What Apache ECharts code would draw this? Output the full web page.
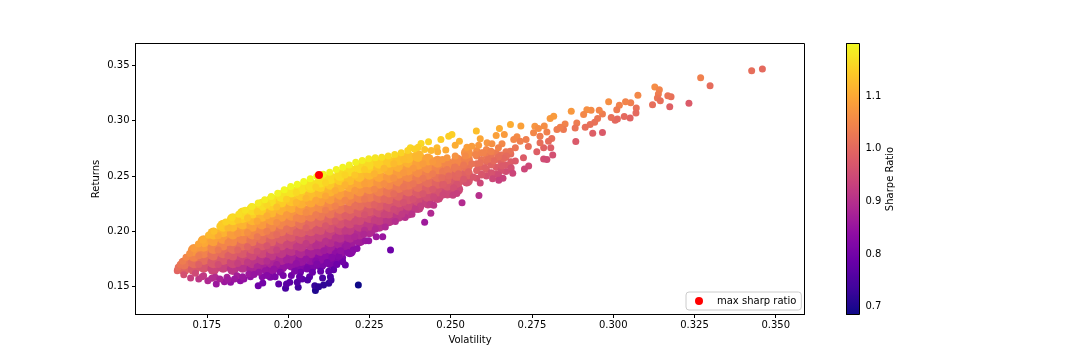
<!DOCTYPE html>
<html>
<head>
<meta charset="utf-8">
<title>Portfolio scatter</title>
<script src="https://cdn.jsdelivr.net/npm/echarts@6/dist/echarts.min.js"></script>
<style>
html, body { margin: 0; padding: 0; background: #fff; }
#chart { width: 1080px; height: 360px; }
</style>
</head>
<body>
<div id="chart"></div>
<script>
// every point is [volatility, returns, sharpe]
const bodyPoints = [
  [.168,.166,.988],[.168,.171,1.018],
  [.171,.166,.971],[.171,.172,1.006],[.171,.178,1.041],[.171,.183,1.070],
  [.174,.168,.966],[.174,.175,1.006],[.174,.181,1.040],[.174,.187,1.075],[.174,.191,1.098],
  [.177,.166,.938],[.177,.172,.972],[.177,.179,1.011],[.177,.185,1.045],[.177,.192,1.085],[.177,.198,1.119],
  [.180,.168,.933],[.180,.175,.972],[.180,.181,1.006],[.180,.188,1.044],[.180,.194,1.078],[.180,.200,1.111],[.180,.205,1.139],
  [.183,.166,.907],[.183,.172,.940],[.183,.179,.978],[.183,.185,1.011],[.183,.192,1.049],[.183,.198,1.082],[.183,.205,1.120],[.183,.211,1.153],
  [.186,.168,.903],[.186,.175,.941],[.186,.181,.973],[.186,.188,1.011],[.186,.194,1.043],[.186,.201,1.081],[.186,.207,1.113],[.186,.213,1.145],[.186,.216,1.161],
  [.189,.166,.878],[.189,.172,.910],[.189,.179,.947],[.189,.185,.979],[.189,.192,1.016],[.189,.198,1.048],[.189,.205,1.085],[.189,.211,1.116],[.189,.217,1.148],[.189,.220,1.164],
  [.192,.168,.875],[.192,.175,.911],[.192,.181,.943],[.192,.188,.979],[.192,.194,1.010],[.192,.201,1.047],[.192,.207,1.078],[.192,.214,1.115],[.192,.220,1.146],[.192,.224,1.167],
  [.195,.166,.851],[.195,.172,.882],[.195,.179,.918],[.195,.185,.949],[.195,.192,.985],[.195,.198,1.015],[.195,.205,1.051],[.195,.211,1.082],[.195,.218,1.118],[.195,.224,1.149],[.195,.228,1.169],
  [.198,.168,.848],[.198,.175,.884],[.198,.181,.914],[.198,.188,.949],[.198,.194,.980],[.198,.201,1.015],[.198,.207,1.045],[.198,.214,1.081],[.198,.220,1.111],[.198,.227,1.146],[.198,.232,1.172],
  [.201,.170,.846],[.201,.176,.876],[.201,.183,.910],[.201,.189,.940],[.201,.196,.975],[.201,.202,1.005],[.201,.209,1.040],[.201,.215,1.070],[.201,.222,1.104],[.201,.228,1.134],[.201,.236,1.174],
  [.204,.168,.824],[.204,.174,.853],[.204,.181,.887],[.204,.187,.917],[.204,.194,.951],[.204,.200,.980],[.204,.207,1.015],[.204,.213,1.044],[.204,.220,1.078],[.204,.226,1.108],[.204,.233,1.142],[.204,.239,1.172],
  [.207,.168,.812],[.207,.175,.845],[.207,.181,.874],[.207,.188,.908],[.207,.194,.937],[.207,.201,.971],[.207,.207,1.000],[.207,.214,1.034],[.207,.220,1.063],[.207,.227,1.097],[.207,.233,1.126],[.207,.240,1.159],[.207,.242,1.169],
  [.210,.170,.810],[.210,.176,.838],[.210,.183,.871],[.210,.189,.900],[.210,.196,.933],[.210,.202,.962],[.210,.209,.995],[.210,.215,1.024],[.210,.222,1.057],[.210,.228,1.086],[.210,.235,1.119],[.210,.241,1.148],[.210,.245,1.167],
  [.213,.172,.808],[.213,.178,.836],[.213,.185,.869],[.213,.191,.897],[.213,.198,.930],[.213,.204,.958],[.213,.211,.991],[.213,.217,1.019],[.213,.224,1.052],[.213,.230,1.080],[.213,.237,1.113],[.213,.243,1.141],[.213,.248,1.164],
  [.216,.176,.815],[.216,.182,.843],[.216,.189,.875],[.216,.195,.903],[.216,.202,.935],[.216,.208,.963],[.216,.215,.995],[.216,.221,1.023],[.216,.228,1.056],[.216,.234,1.083],[.216,.241,1.116],[.216,.247,1.144],[.216,.251,1.162],
  [.219,.182,.831],[.219,.189,.863],[.219,.195,.890],[.219,.202,.922],[.219,.208,.950],[.219,.215,.982],[.219,.221,1.009],[.219,.228,1.041],[.219,.234,1.068],[.219,.241,1.100],[.219,.247,1.128],[.219,.255,1.164],
  [.222,.192,.865],[.222,.198,.892],[.222,.205,.923],[.222,.211,.950],[.222,.218,.982],[.222,.224,1.009],[.222,.231,1.041],[.222,.237,1.068],[.222,.244,1.099],[.222,.250,1.126],[.222,.258,1.162],
  [.225,.200,.889],[.225,.206,.916],[.225,.213,.947],[.225,.219,.973],[.225,.226,1.004],[.225,.232,1.031],[.225,.239,1.062],[.225,.245,1.089],[.225,.252,1.120],[.225,.258,1.147],[.225,.261,1.160],
  [.228,.205,.899],[.228,.211,.925],[.228,.218,.956],[.228,.224,.982],[.228,.231,1.013],[.228,.237,1.039],[.228,.244,1.070],[.228,.250,1.096],[.228,.257,1.127],[.228,.262,1.149],
  [.231,.210,.909],[.231,.217,.939],[.231,.223,.965],[.231,.230,.996],[.231,.236,1.022],[.231,.243,1.052],[.231,.249,1.078],[.231,.256,1.108],[.231,.263,1.139],
  [.234,.214,.915],[.234,.220,.940],[.234,.227,.970],[.234,.233,.996],[.234,.240,1.026],[.234,.246,1.051],[.234,.253,1.081],[.234,.259,1.107],[.234,.265,1.132],
  [.237,.217,.916],[.237,.224,.945],[.237,.230,.970],[.237,.237,1.000],[.237,.243,1.025],[.237,.250,1.055],[.237,.256,1.080],[.237,.263,1.110],[.237,.267,1.127],
  [.240,.222,.925],[.240,.228,.950],[.240,.235,.979],[.240,.241,1.004],[.240,.248,1.033],[.240,.254,1.058],[.240,.261,1.088],[.240,.268,1.117],
  [.243,.226,.930],[.243,.232,.955],[.243,.239,.984],[.243,.245,1.008],[.243,.252,1.037],[.243,.258,1.062],[.243,.265,1.091],
  [.246,.231,.939],[.246,.237,.963],[.246,.244,.992],[.246,.250,1.016],[.246,.257,1.045],[.246,.263,1.069],
  [.249,.235,.944],[.249,.242,.972],[.249,.248,.996],[.249,.255,1.024],[.249,.261,1.048],
  [.252,.238,.944],[.252,.245,.972],[.252,.251,.996],[.252,.258,1.024],[.252,.264,1.048],
  [.255,.246,.965],[.255,.252,.988],[.255,.259,1.016],[.255,.265,1.039],[.255,.271,1.063]
];

// small dots on top of the body, they break up its texture
const middlePoints = [
  [.1725,.1700,.986],[.1725,.1780,1.032],[.1725,.1850,1.072],
  [.1785,.1700,.952],[.1785,.1830,1.025],[.1785,.1960,1.098],
  [.1815,.1780,.981],[.1815,.1900,1.047],[.1815,.2030,1.118],
  [.1845,.1710,.927],[.1845,.1830,.992],[.1845,.1980,1.073],[.1845,.2100,1.138],
  [.1875,.1720,.917],[.1875,.1860,.992],[.1875,.1990,1.061],[.1875,.2120,1.131],
  [.1905,.1680,.882],[.1905,.1820,.955],[.1905,.1950,1.024],[.1905,.2090,1.097],[.1905,.2180,1.144],
  [.1935,.1730,.894],[.1935,.1870,.966],[.1935,.2000,1.034],[.1935,.2140,1.106],[.1935,.2240,1.158],
  [.1965,.1700,.865],[.1965,.1830,.931],[.1965,.1970,1.003],[.1965,.2080,1.059],[.1965,.2220,1.130],
  [.1995,.1740,.872],[.1995,.1880,.942],[.1995,.2020,1.013],[.1995,.2150,1.078],[.1995,.2290,1.148],
  [.2025,.1710,.844],[.2025,.1860,.919],[.2025,.1990,.983],[.2025,.2120,1.047],[.2025,.2260,1.116],[.2025,.2350,1.160],
  [.2055,.1750,.852],[.2055,.1890,.920],[.2055,.2030,.988],[.2055,.2170,1.056],[.2055,.2300,1.119],
  [.2085,.1730,.830],[.2085,.1870,.897],[.2085,.2010,.964],[.2085,.2150,1.031],[.2085,.2280,1.094],[.2085,.2400,1.151],
  [.2115,.1770,.837],[.2115,.1910,.903],[.2115,.2050,.969],[.2115,.2190,1.035],[.2115,.2320,1.097],[.2115,.2440,1.154],
  [.2145,.1800,.839],[.2145,.1940,.904],[.2145,.2090,.974],[.2145,.2230,1.040],[.2145,.2370,1.105],
  [.2175,.1860,.855],[.2175,.2000,.920],[.2175,.2140,.984],[.2175,.2280,1.048],[.2175,.2420,1.113],[.2175,.2510,1.154],
  [.2205,.1950,.884],[.2205,.2090,.948],[.2205,.2230,1.011],[.2205,.2370,1.075],[.2205,.2510,1.138],
  [.2235,.2010,.899],[.2235,.2150,.962],[.2235,.2290,1.025],[.2235,.2430,1.087],[.2235,.2560,1.145],
  [.2265,.2100,.927],[.2265,.2240,.989],[.2265,.2380,1.051],[.2265,.2520,1.113],
  [.2295,.2150,.937],[.2295,.2290,.998],[.2295,.2430,1.059],[.2295,.2570,1.120],
  [.2325,.2200,.946],[.2325,.2340,1.006],[.2325,.2480,1.067],[.2325,.2610,1.123],
  [.2355,.2260,.960],[.2355,.2400,1.019],[.2355,.2530,1.074],[.2355,.2650,1.125],
  [.2385,.2290,.960],[.2385,.2430,1.019],[.2385,.2570,1.078],
  [.2415,.2340,.969],[.2415,.2480,1.027],[.2415,.2610,1.081],
  [.2445,.2380,.973],[.2445,.2520,1.031],[.2445,.2630,1.076],
  [.2475,.2420,.978],[.2475,.2540,1.026],[.2475,.2650,1.071]
];

const upperEdge = [
  [.1660,.1650,.994],[.1662,.1675,1.008],[.1668,.1700,1.019],[.1676,.1730,1.032],[.1686,.1765,1.047],[.1697,.1800,1.061],
  [.1710,.1845,1.079],[.1724,.1885,1.093],[.1738,.1920,1.105],[.1755,.1965,1.120],[.1772,.2000,1.129],[.1790,.2045,1.142],
  [.1808,.2085,1.153],[.1828,.2125,1.162],[.1848,.2155,1.166],[.1868,.2190,1.172],[.1888,.2225,1.178],[.1908,.2255,1.182],
  [.1928,.2285,1.185],[.1948,.2315,1.188],[.1968,.2345,1.192],[.1988,.2375,1.195],[.2008,.2405,1.198],[.2028,.2425,1.196],
  [.2048,.2450,1.196],[.2068,.2475,1.197],[.2088,.2495,1.195],[.2108,.2515,1.193],[.2128,.2535,1.191],[.2148,.2560,1.192],
  [.2168,.2580,1.190],[.2188,.2600,1.188],[.2208,.2625,1.189],[.2228,.2640,1.185],[.2248,.2655,1.181],[.2268,.2665,1.175],
  [.2288,.2670,1.167],[.2308,.2680,1.161],[.2328,.2695,1.158],[.2348,.2710,1.154],[.2368,.2730,1.153],[.2388,.2745,1.150],
  [.2400,.2760,1.150],[.2420,.2740,1.132],[.2440,.2730,1.119],[.2460,.2720,1.106],[.2485,.2735,1.101]
];

const lowerScatter = [
  [.1659,.1644,.991],[.1679,.1608,.958],[.1700,.1578,.928],[.1725,.1569,.910],[.1753,.1554,.886],[.1779,.1524,.857],
  [.1804,.1545,.856],[.1823,.1539,.844],[.1853,.1554,.839],[.1864,.1569,.842],[.1884,.1590,.844],[.1908,.1509,.791],
  [.1922,.1533,.798],[.1920,.1590,.828],[.1945,.1584,.814],[.1971,.1524,.773],[.1992,.1485,.745],[.1995,.1524,.764],
  [.2005,.1539,.768],[.2031,.1494,.736],[.2028,.1539,.759],[.2043,.1569,.768],[.2066,.1590,.770],[.2084,.1464,.702],
  [.2082,.1509,.725],[.2094,.1500,.716],[.2109,.1515,.718],[.2125,.1530,.720],[.2132,.1560,.732],[.2130,.1590,.746],
  [.2106,.1578,.749],[.2140,.1653,.772],[.2176,.1695,.779],[.2168,.1725,.796],[.2156,.1773,.822],[.2216,.1515,.684],
  [.2315,.1830,.791],[.2200,.1830,.832],[.2212,.1845,.834],[.2238,.1914,.855],[.2248,.1914,.851],[.2271,.1950,.859],
  [.2291,.1950,.851],[.2299,.2040,.887],[.2330,.2088,.896],[.2268,.2019,.890],[.2233,.1974,.884],[.2181,.1869,.857],
  [.2161,.1824,.844],[.2135,.1764,.826],[.2110,.1824,.864],[.2089,.1704,.816],[.2058,.1659,.806],[.2120,.1719,.811],
  [.2038,.1629,.799],[.1976,.1629,.824],[.1956,.1659,.848],[.1930,.1644,.852],[.1910,.1629,.853],[.1879,.1614,.859],
  [.1843,.1599,.868],[.1812,.1584,.874],[.1776,.1584,.892],[.1740,.1599,.919],[.1715,.1620,.945],
  [.1735,.1590,.916],[.1765,.1575,.892],[.1790,.1570,.877],[.1815,.1565,.862],[.1835,.1570,.856],[.1860,.1590,.855],
  [.1895,.1610,.850],[.1935,.1600,.827],[.1960,.1590,.811],[.1985,.1600,.806],[.2010,.1600,.796],[.2035,.1590,.781],
  [.2060,.1560,.757],[.2020,.1640,.812],[.2075,.1630,.786],[.2100,.1640,.781],[.2125,.1640,.772],[.2150,.1700,.791]
];

const rightScatter = [
  [.258,.248,.961],[.258,.255,.988],[.258,.261,1.012],[.258,.268,1.039],[.258,.273,1.058],
  [.261,.250,.958],[.261,.256,.981],[.261,.263,1.008],[.261,.269,1.031],[.261,.274,1.050],
  [.264,.252,.955],[.264,.258,.977],[.264,.265,1.004],[.264,.271,1.027],
  [.267,.254,.951],[.267,.260,.974],[.267,.267,1.000],[.267,.272,1.019],
  [.2595,.251,.967],[.2595,.258,.994],[.2595,.265,1.021],[.2595,.271,1.044],
  [.2625,.253,.964],[.2625,.260,.990],[.2625,.267,1.017],[.2625,.272,1.036],
  [.2655,.255,.960],[.2655,.262,.987],[.2655,.269,1.013],
  [.2685,.256,.953],[.2685,.263,.980],[.2685,.270,1.006],
  [.3459,.3467,1.002],[.3426,.3452,1.008],[.3298,.3317,1.006],[.3269,.3389,1.037],[.3233,.3157,.977],[.3174,.3127,.985],
  [.3178,.3217,1.012],[.3168,.3226,1.018],[.3128,.3305,1.057],[.3142,.3281,1.044],[.3139,.3242,1.033],[.3136,.3206,1.022],
  [.3145,.3181,1.011],[.3121,.3145,1.008],[.3076,.3230,1.050],[.3054,.3163,1.036],[.3038,.3172,1.044],[.3019,.3139,1.040],
  [.3011,.3100,1.030],[.3071,.3115,1.014],[.3070,.3070,1.000],[.3052,.3025,.991],[.3034,.3037,1.001],[.3013,.3016,1.001],
  [.3006,.3004,.999],[.2994,.3028,1.011],[.2986,.3172,1.062],[.2967,.2893,.975],[.2937,.2887,.983],[.2967,.3061,1.032],
  [.2957,.3094,1.046],[.2932,.3094,1.055],[.2919,.3100,1.062],[.2909,.3055,1.050],[.2952,.3019,1.023],[.2943,.2986,1.015],
  [.2929,.2965,1.012],[.2914,.2941,1.009],[.2885,.2811,.974],[.2888,.2980,1.032],[.2883,.2935,1.018],[.2871,.3085,1.075],
  [.2852,.2971,1.042],[.2847,.2920,1.026],[.2837,.2941,1.037],[.2827,.2920,1.033],[.2817,.3040,1.079],[.2806,.3019,1.076],
  [.2796,.2899,1.037],[.2788,.2953,1.059],[.2759,.2950,1.069],[.2755,.2890,1.049],[.2770,.2929,1.057],[.2775,.2860,1.031],
  [.2811,.2839,1.010],[.2801,.2815,1.005],[.2786,.2755,.989],[.2808,.2755,.981],[.2814,.2689,.956],[.2765,.2719,.983],
  [.2775,.2800,1.009],[.2786,.2653,.952],[.2796,.2650,.948],[.2740,.2590,.945],[.2727,.2563,.940],[.2739,.2767,1.010],
  [.2732,.2830,1.036],[.2716,.2953,1.087],[.2684,.2965,1.105],[.2704,.2854,1.055],[.2694,.2830,1.050],[.2714,.2815,1.037],
  [.2665,.2875,1.079],[.2650,.2929,1.105],[.2640,.2866,1.086],[.2579,.2908,1.128],[.2591,.2836,1.095],[.2504,.2875,1.148],
  [.2494,.2860,1.147],[.2527,.2815,1.114],[.2470,.2830,1.146],[.2432,.2809,1.155],[.2409,.2794,1.160],[.2376,.2755,1.159],
  [.2458,.2755,1.121],[.2514,.2779,1.105],[.2550,.2761,1.083],[.2565,.2770,1.080],[.2586,.2779,1.075],[.2612,.2800,1.072],
  [.2627,.2791,1.062],[.2658,.2791,1.050],[.2647,.2755,1.041],[.2624,.2725,1.039],[.2601,.2710,1.042],[.2576,.2695,1.046],
  [.2545,.2680,1.053],[.2514,.2680,1.066],[.2489,.2665,1.071],[.2683,.2725,1.016],[.2671,.2680,1.003],[.2699,.2755,1.021],
  [.2724,.2665,.978],[.2699,.2635,.976],[.2663,.2659,.998],[.2647,.2671,1.009],[.2632,.2635,1.001],[.2614,.2650,1.014],
  [.2591,.2620,1.011],[.2565,.2611,1.018],[.2540,.2599,1.023],[.2514,.2581,1.027],[.2489,.2560,1.029],[.2606,.2575,.988],
  [.2581,.2551,.988],[.2555,.2539,.994],[.2524,.2521,.999],[.2494,.2500,1.002],[.2658,.2590,.974],[.2686,.2575,.959],
  [.2691,.2524,.938],[.2624,.2524,.962],[.2647,.2509,.948],[.2661,.2479,.932],[.2648,.2461,.929],[.2629,.2476,.942],
  [.2591,.2437,.941],[.2596,.2515,.969],[.2570,.2491,.969],[.2548,.2440,.958],[.2540,.2470,.972],[.2519,.2425,.963],
  [.2509,.2395,.955],[.2519,.2341,.929],[.2507,.2326,.928],[.2587,.2323,.898],[.2535,.2259,.891],[.2478,.2425,.979],
  [.2476,.2329,.941],[.2448,.2311,.944],[.2437,.2245,.921],[.2448,.2236,.913],[.2439,.2163,.887],[.2420,.2082,.860],
  [.2407,.2229,.926],[.2391,.2199,.920],[.2381,.2154,.905],[.2360,.2124,.900],[.2350,.2154,.917],[.2473,.2485,1.005]
];

const maxSharpPoint = [[.2095,.2510]];

const xTicks = [.175,.2,.225,.25,.275,.3,.325,.35];
const yTicks = [.15,.2,.25,.3,.35];
const barTicks = [.7,.8,.9,1,1.1];
const plasma = ['#0d0887','#41049d','#6a00a8','#8f0da4','#b12a90','#cc4778','#e16462','#f2844b','#fca636','#fcce25','#f0f921'];

const font = 'DejaVu Sans';

function axisBits(ticks, digits) {
  return {
    nameMoveOverlap: false,
    nameTextStyle: { color: '#000', fontSize: 10, fontFamily: font },
    axisLine: { show: true, lineStyle: { color: '#000', width: 1 } },
    axisTick: { show: true, length: 3.5, customValues: ticks, lineStyle: { color: '#000', width: 1 } },
    axisLabel: {
      customValues: ticks,
      color: '#000', fontSize: 10, fontFamily: font, margin: 6,
      formatter: (v) => v.toFixed(digits),
    },
    splitLine: { show: false },
  };
}

const solid = { opacity: 1 };

const myChart = echarts.init(document.getElementById('chart'), null, { renderer: 'canvas' });
myChart.setOption({
  animation: false,
  backgroundColor: '#fff',
  grid: [
    { left: 135.5, top: 43.5, width: 669, height: 271, show: true, borderColor: '#000', borderWidth: 1, backgroundColor: 'transparent' },
    { left: 846.5, top: 43.5, width: 13, height: 271, show: true, borderColor: '#000', borderWidth: 1, backgroundColor: 'transparent', z: 6 },
  ],
  xAxis: [
    {
      type: 'value', min: .15305, max: .35885,
      name: 'Volatility', nameLocation: 'middle', nameGap: 21,
      ...axisBits(xTicks, 3),
    },
    { type: 'value', gridIndex: 1, min: 0, max: 1, show: false },
  ],
  yAxis: [
    {
      type: 'value', min: .1248, max: .3698,
      name: 'Returns', nameLocation: 'middle', nameGap: 34,
      ...axisBits(yTicks, 2),
    },
    {
      type: 'value', gridIndex: 1, position: 'right', min: .685, max: 1.2005,
      name: 'Sharpe Ratio', nameLocation: 'middle', nameGap: 26, nameRotate: 90,
      ...axisBits(barTicks, 1),
    },
  ],
  visualMap: {
    type: 'continuous',
    min: .683, max: 1.1986,
    dimension: 2,
    seriesIndex: [0, 1, 2, 3, 4],
    left: 846, top: 43,
    padding: 0,
    itemWidth: 14, itemHeight: 272,
    text: ['', ''],
    showLabel: false,
    calculable: false,
    hoverLink: false,
    inRange: { color: plasma },
    z: 1,
  },
  legend: {
    data: ['max sharp ratio'],
    left: 686, top: 292,
    padding: [4, 5, 4, 9],
    itemWidth: 16, itemHeight: 8,
    borderColor: '#ccc', borderWidth: 1, borderRadius: 3,
    textStyle: { color: '#000', fontSize: 10, fontFamily: font, padding: [0, 0, 0, 5] },
    selectedMode: false,
  },
  series: [
    { name: 'body', type: 'scatter', data: bodyPoints, symbolSize: 12, silent: true, itemStyle: solid },
    { name: 'middle', type: 'scatter', data: middlePoints, symbolSize: 7, silent: true, itemStyle: solid },
    { name: 'lower', type: 'scatter', data: lowerScatter, symbolSize: 7, silent: true, itemStyle: solid },
    { name: 'right', type: 'scatter', data: rightScatter, symbolSize: 7, silent: true, itemStyle: solid },
    { name: 'upper', type: 'scatter', data: upperEdge, symbolSize: 7, silent: true, itemStyle: solid },
    { name: 'max sharp ratio', type: 'scatter', data: maxSharpPoint, symbolSize: 8, itemStyle: { color: '#ff0000', opacity: 1 }, z: 5 },
  ],
});
</script>
</body>
</html>
